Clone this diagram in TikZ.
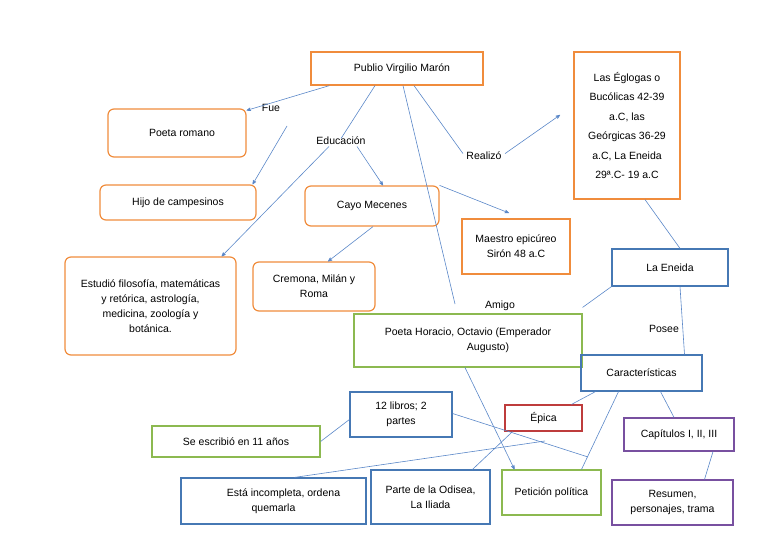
\documentclass[tikz,border=0pt]{standalone}
\usepackage{fontspec}
\setmainfont{Liberation Sans}
\usetikzlibrary{arrows,positioning}
\definecolor{naranja}{RGB}{240,140,60}
\definecolor{azul}{RGB}{70,120,180}
\definecolor{verde}{RGB}{140,185,80}
\definecolor{rojo}{RGB}{190,60,60}
\definecolor{morado}{RGB}{120,80,160}
\definecolor{linea}{RGB}{90,135,200}

\begin{document}
\begin{tikzpicture}[x=1pt,y=-1pt,font=\fontsize{10.5}{15}\selectfont,
    caja/.style={draw,line width=1.2pt,align=center,inner sep=0pt},
    redonda/.style={caja,draw=naranja,rounded corners=6pt},
    recta/.style={caja},
    con/.style={draw=linea,line width=0.6pt},
    flecha/.style={con,->,>=stealth'}]
    \useasboundingbox (0,0) rectangle (768,543);
    % cajas naranjas
    \node[recta,draw=naranja,minimum width=172pt,minimum height=33pt] (publio) at (397,68.5) {\hspace{10pt}Publio Virgilio Marón};
    \node[redonda,minimum width=138pt,minimum height=48pt] (poeta) at (177,133) {\hspace{10pt}Poeta romano};
    \node[redonda,minimum width=156pt,minimum height=35pt] (hijo) at (178,202.5) {Hijo de campesinos};
    \node[redonda,minimum width=171pt,minimum height=98pt] (estudio) at (150.5,306) {Estudió filosofía, matemáticas\\y retórica, astrología,\\medicina, zoología y\\botánica.};
    \node[redonda,minimum width=134pt,minimum height=40pt] (cayo) at (372,206) {Cayo Mecenes};
    \node[redonda,minimum width=122pt,minimum height=49pt] (cremona) at (314,286.5) {Cremona, Milán y\\Roma};
    \node[recta,draw=naranja,minimum width=108pt,minimum height=55pt] (maestro) at (516,246.5) {Maestro epicúreo\\Sirón 48 a.C};
    \node[recta,draw=naranja,minimum width=106pt,minimum height=147pt,font=\fontsize{10.5}{19.5}\selectfont] (eglogas) at (627,125.5) {Las Églogas o\\Bucólicas 42-39\\a.C, las\\Geórgicas 36-29\\a.C, La Eneida\\29ª.C- 19 a.C};
    % cajas de la Eneida
    \node[recta,draw=azul,minimum width=116pt,minimum height=37pt] (eneida) at (670,267.5) {La Eneida};
    \node[recta,draw=verde,minimum width=228pt,minimum height=53pt] (horacio) at (468,340.5) {Poeta Horacio, Octavio (Emperador\\\hspace{40pt}Augusto)};
    \node[recta,draw=azul,minimum width=121pt,minimum height=36pt] (carac) at (641.5,373) {Características};
    \node[recta,draw=azul,minimum width=102pt,minimum height=45pt] (libros) at (401,414.5) {12 libros; 2\\partes};
    \node[recta,draw=rojo,minimum width=77pt,minimum height=26pt] (epica) at (543.5,418) {Épica};
    \node[recta,draw=morado,minimum width=110pt,minimum height=33pt] (capitulos) at (679,434.5) {Capítulos I, II, III};
    \node[recta,draw=verde,minimum width=168pt,minimum height=31pt] (once) at (236,441.5) {Se escribió en 11 años};
    \node[recta,draw=azul,minimum width=185pt,minimum height=46pt] (incompleta) at (273.5,501) {\hspace{20pt}Está incompleta, ordena\\quemarla};
    \node[recta,draw=azul,minimum width=119pt,minimum height=54pt] (odisea) at (430.5,497) {Parte de la Odisea,\\La Iliada};
    \node[recta,draw=verde,minimum width=99pt,minimum height=45pt] (peticion) at (551.5,492.5) {Petición política};
    \node[recta,draw=morado,minimum width=121pt,minimum height=45pt] (resumen) at (672.5,502.5) {Resumen,\\personajes, trama};
    % palabras de enlace
    \node (fue) at (271,108) {Fue};
    \node (educacion) at (341,141) {Educación};
    \node (realizo) at (484,156) {Realizó};
    \node (amigo) at (500,306) {Amigo};
    \node (posee) at (664,329) {Posee};
    \coordinate (amigofin) at (455,304);
    \coordinate (fin1) at (588,457);
    \coordinate (fin2) at (545,441);
    % conectores
    \draw[flecha] ([xshift=19pt]publio.south west) -- ([yshift=-2pt]poeta.north east);
    \draw[flecha] (287,126) -- ([xshift=-4pt]hijo.north east);
    \draw[con] ([xshift=-22pt]publio.south) -- ([yshift=-5pt]educacion.north);
    \draw[flecha] ([xshift=-12pt,yshift=2pt]educacion.south) -- ([xshift=-15pt]estudio.north east);
    \draw[flecha] ([xshift=16pt,yshift=2pt]educacion.south) -- ([xshift=11pt]cayo.north);
    \draw[con] ([xshift=17pt]publio.south) -- ([yshift=-5pt]realizo.north west);
    \draw[flecha] ([yshift=-5pt]realizo.north east) -- (560,115);
    \draw[con] ([xshift=6pt]publio.south) -- (amigofin);
    \draw[flecha] (cayo.north east) -- (509,213);
    \draw[flecha] ([xshift=1pt]cayo.south) -- ([xshift=14pt]cremona.north);
    \draw[con] ([xshift=18pt]eglogas.south) -- ([xshift=10pt]eneida.north);
    \draw[con] (eneida.south west) -- ([yshift=6pt]horacio.north east);
    \draw[con] ([xshift=10pt]eneida.south) -- ([xshift=43pt]carac.north);
    \draw[flecha] ([xshift=-3pt]horacio.south) -- ([xshift=-37pt]peticion.north);
    \draw[con] ([xshift=-46pt]carac.south) -- ([xshift=28pt]epica.north);
    \draw[con] ([xshift=-23pt]carac.south) -- ([xshift=30pt]peticion.north);
    \draw[con] ([xshift=19pt]carac.south) -- ([xshift=-5pt]capitulos.north);
    \draw[con] ([xshift=34pt]capitulos.south) -- ([xshift=32pt]resumen.north);
    \draw[con] ([yshift=1pt]libros.east) -- (fin1);
    \draw[con] ([yshift=-5pt]libros.west) -- (once.east);
    \draw[con] ([xshift=-31pt]epica.south) -- ([xshift=42pt]odisea.north);
    \draw[con] ([xshift=21pt]incompleta.north) -- (fin2);
\end{tikzpicture}
\end{document}
